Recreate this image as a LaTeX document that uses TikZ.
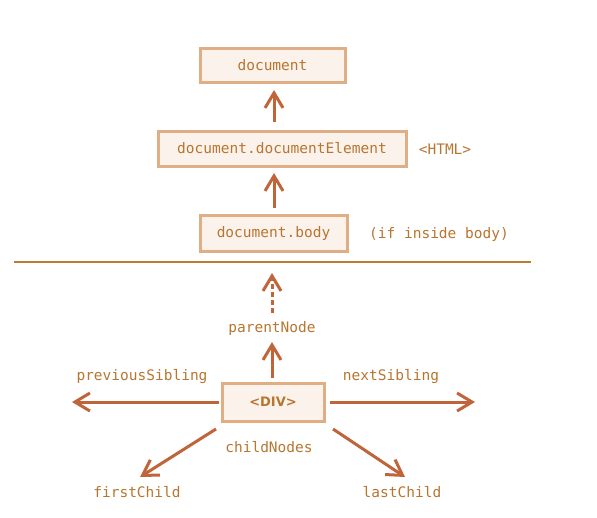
\documentclass[tikz,border=0pt]{standalone}
\usepackage{fontspec}
\setmonofont{DejaVu Sans Mono}
\setsansfont{DejaVu Sans}
\usetikzlibrary{arrows.meta}
\definecolor{txt}{HTML}{B8752F}
\definecolor{arr}{HTML}{C0653A}
\definecolor{boxline}{HTML}{DFAE85}
\definecolor{boxfill}{HTML}{FCF2EC}
\definecolor{sep}{HTML}{BF7B2F}
\tikzset{
  mono/.style={font=\ttfamily\fontsize{14.5}{16}\selectfont, text=txt, inner sep=0pt},
  domnode/.style={draw=boxline, fill=boxfill, line width=3pt, inner sep=0pt, mono},
  link/.style={draw=arr, line width=3pt, -{Straight Barb[length=15pt,width=18pt,line width=3pt]}},
}
\begin{document}
\begin{tikzpicture}[x=1pt,y=-1pt]
\useasboundingbox (0,0) rectangle (597,517);
\node[domnode, minimum width=145pt, minimum height=34pt] (doc) at (272.5,65) {document};
\node[domnode, minimum width=248pt, minimum height=35pt] (docel) at (282,148.5) {document.documentElement};
\node[domnode, minimum width=147pt, minimum height=36pt] (body) at (273.5,233) {document.body};
\node[mono] (html) at (445,149) {<HTML>};
\node[mono] (ifbody) at (439,234) {(if inside body)};
\coordinate (sepL) at (14,262);
\coordinate (sepR) at (531,262);
\draw[sep, line width=2.5pt] (sepL) -- (sepR);

\coordinate (a1s) at (274,122);
\coordinate (a1e) at (274,90);
\coordinate (a2s) at (274,208);
\coordinate (a2e) at (274,173);
\draw[link] (a1s) -- (a1e);
\draw[link] (a2s) -- (a2e);

\node[mono] (parent) at (272,328) {parentNode};
\coordinate (p1s) at (272,313);
\coordinate (p1e) at (272,273);
\draw[link, dash pattern=on 5pt off 3pt] (p1s) -- (p1e);

\node[domnode, minimum width=102pt, minimum height=38pt, font=\sffamily\bfseries\fontsize{13}{15}\selectfont] (div) at (273,402) {<DIV>};
\coordinate (p2s) at (272,378);
\coordinate (p2e) at (272,342);
\draw[link] (p2s) -- (p2e);

\node[mono] (prev) at (142,377) {previousSibling};
\node[mono] (next) at (391,377) {nextSibling};
\coordinate (ls) at (219,402);
\coordinate (le) at (72,402);
\coordinate (rs) at (330,402);
\coordinate (re) at (475,402);
\draw[link] (ls) -- (le);
\draw[link] (rs) -- (re);

\node[mono] (child) at (269,447) {childNodes};
\coordinate (fs) at (216,429);
\coordinate (fe) at (140,477);
\coordinate (lls) at (333,429);
\coordinate (lle) at (405,477);
\draw[link] (fs) -- (fe);
\draw[link] (lls) -- (lle);
\node[mono] (first) at (137,492) {firstChild};
\node[mono] (last) at (402,492) {lastChild};
\end{tikzpicture}
\end{document}
